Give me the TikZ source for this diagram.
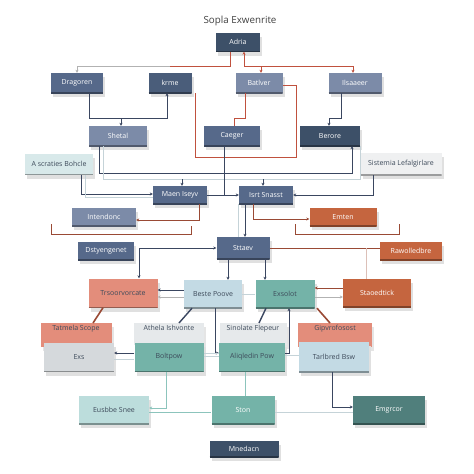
\documentclass[tikz,border=0pt]{standalone}
\usepackage{fontspec}
\setmainfont{Open Sans}
\usepackage{tikz}
\usetikzlibrary{arrows.meta}
\usetikzlibrary{shadows}

\definecolor{navy}{HTML}{3D5068}
\definecolor{slate}{HTML}{56698A}
\definecolor{slatedark}{HTML}{4A5D7A}
\definecolor{slatelight}{HTML}{7C8BA8}
\definecolor{orangebox}{HTML}{C5653F}
\definecolor{salmon}{HTML}{E38D7B}
\definecolor{tealbox}{HTML}{74B3A8}
\definecolor{tealdark}{HTML}{507F7C}
\definecolor{lightblue}{HTML}{C3DAE4}
\definecolor{lightteal}{HTML}{BCDDDC}
\definecolor{palegray}{HTML}{E6E9EB}
\definecolor{offwhite}{HTML}{EFF0F1}
\definecolor{midgray}{HTML}{D5D9DC}
\definecolor{paleteal}{HTML}{D8E9EA}
\definecolor{redline}{HTML}{C0513E}
\definecolor{brownline}{HTML}{9A4A35}
\definecolor{navyline}{HTML}{3A4660}
\definecolor{lightline}{HTML}{C5D3D8}
\definecolor{tealline}{HTML}{8CC4BC}
\definecolor{darktext}{HTML}{3D4A5A}

\begin{document}
\begin{tikzpicture}[x=1pt, y=-1pt,
    box/.style={rectangle, fill=#1, inner sep=0pt, text=white,
      font=\fontsize{7}{8}\selectfont,
      drop shadow={shadow xshift=2pt, shadow yshift=-4pt, fill=black!12, opacity=1},
      path picture={\draw[line width=1.6pt, #1!65!black]
        (path picture bounding box.south west) -- (path picture bounding box.south east);}},
    lbox/.style={box=#1, text=darktext},
    head/.style={rectangle, fill=#1, inner sep=0pt, text=darktext,
      font=\fontsize{7}{8}\selectfont,
      drop shadow={shadow xshift=2pt, shadow yshift=-4pt, fill=black!10, opacity=1}},
    navyln/.style={draw=navyline, line width=1pt},
    redln/.style={draw=redline, line width=1pt},
    brownln/.style={draw=brownline, line width=1pt},
    grayln/.style={draw=black!30, line width=1pt},
    lightln/.style={draw=lightline, line width=1pt},
    tealln/.style={draw=tealline, line width=1pt},
    tanln/.style={draw=brownline!35, line width=1pt},
    >={Stealth[length=3pt, width=3pt]}]

    \useasboundingbox[fill=white] (0,0) rectangle (474,474);

    \node[font=\fontsize{9.8}{11}\selectfont, text=black!75] (0) at (240,21) {Sopla Exwenrite};

    % top rows
    \node[box=navy, minimum width=44pt, minimum height=19pt] (1) at (238,42) {Adria};
    \node[box=slate, minimum width=52pt, minimum height=20pt] (2) at (77,83) {Dragoren};
    \node[box=slatedark, minimum width=43pt, minimum height=20pt] (3) at (170,83) {krme};
    \node[box=slatelight, minimum width=47pt, minimum height=20pt] (4) at (259,83) {Batlver};
    \node[box=slatelight, minimum width=53pt, minimum height=20pt] (5) at (355,83) {Ilsaaeer};
    \node[box=slatelight, minimum width=58pt, minimum height=20pt] (6) at (118,136) {Shetal};
    \node[box=slate, minimum width=56pt, minimum height=20pt] (7) at (232,136) {Caeger};
    \node[box=navy, minimum width=60pt, minimum height=20pt] (8) at (330,136) {Berore};
    \node[lbox=paleteal, minimum width=68pt, minimum height=21pt] (9) at (59,164) {A scraties Bohcle};
    \node[lbox=offwhite, minimum width=81pt, minimum height=22pt] (10) at (401,164) {Sistemia Lefalgirlare};
    \node[box=slate, minimum width=54pt, minimum height=18pt] (11) at (180,195) {Maen Iseyv};
    \node[box=slate, minimum width=54pt, minimum height=18pt] (12) at (266,195) {Isrt Snasst};
    \node[box=slatelight, minimum width=64pt, minimum height=18pt] (13) at (104,217) {Intendonc};
    \node[box=orangebox, minimum width=67pt, minimum height=18pt] (14) at (343,217) {Emten};
    \node[box=slate, minimum width=56pt, minimum height=18pt] (15) at (106,251) {Dstyengenet};
    \node[box=slate, minimum width=53pt, minimum height=22pt] (16) at (243,248) {Sttaev};
    \node[box=orangebox, minimum width=62pt, minimum height=18pt] (17) at (411,251) {Rawolledbre};

    % middle row
    \node[lbox=salmon, minimum width=69pt, minimum height=29pt] (18) at (123,293) {Trsoorvorcate};
    \node[lbox=lightblue, minimum width=58pt, minimum height=28pt] (19) at (213,294) {Beste Poove};
    \node[lbox=tealbox, minimum width=59pt, minimum height=28pt] (20) at (285,294) {Exsolot};
    \node[box=orangebox, minimum width=68pt, minimum height=28pt] (21) at (377,293) {Staoedtick};

    % cards
    \node[head=salmon, minimum width=71pt, minimum height=24pt, anchor=north, text depth=14pt] (22) at (76,323) {Tatmela Scope};
    \node[lbox=midgray, minimum width=70pt, minimum height=29pt] (23) at (79,357) {Exs};
    \node[head=palegray, minimum width=70pt, minimum height=22pt, anchor=north, text depth=12pt] (24) at (169,323) {Athela Ishvonte};
    \node[lbox=tealbox, minimum width=69pt, minimum height=29pt] (25) at (169,357) {Boltpow};
    \node[head=palegray, minimum width=67pt, minimum height=22pt, anchor=north, text depth=12pt] (26) at (253,323) {Sinolate Flepeur};
    \node[lbox=tealbox, minimum width=66pt, minimum height=29pt] (27) at (252,357) {Aliqledin Pow};
    \node[head=salmon, minimum width=74pt, minimum height=24pt, anchor=north, text depth=14pt] (28) at (335,323) {Gipvrofosost};
    \node[lbox=lightblue, minimum width=70pt, minimum height=30pt] (29) at (334,357) {Tarlbred Bsw};

    % bottom rows
    \node[lbox=lightteal, minimum width=70pt, minimum height=28pt] (30) at (114,410) {Eusbbe Snee};
    \node[box=tealbox, minimum width=63pt, minimum height=28pt] (31) at (243,410) {Ston};
    \node[box=tealdark, minimum width=72pt, minimum height=28pt] (32) at (389,410) {Emgrcor};
    \node[box=navy, minimum width=69pt, minimum height=16pt] (33) at (244,449) {Mnedacn};

    \coordinate (a1) at (170,66);
    \coordinate (a2) at (244,66);
    \coordinate (b1) at (121,118);
    \coordinate (c1) at (234,118);
    \coordinate (d1) at (329,118);
    \coordinate (e1) at (352,173);
    \coordinate (e2) at (360,179);

    \draw[redln] ([xshift=-8pt]1.south) |- (a1);
    \draw[grayln,->] (a1) -| (2.north);
    \draw[redln,->] (a2) -- ([xshift=6pt]1.south);
    \draw[redln,->] (a2) -| ([xshift=2pt]4.north);
    \draw[redln,->] (a2) -| ([xshift=-2pt]5.north);

    \draw[navyln] ([xshift=12pt]2.south) |- (b1);
    \draw[navyln,->] (b1) -| ([xshift=-3pt]3.south);
    \draw[navyln,->] (b1) -- ([xshift=3pt]6.north);
    \draw[redln] ([xshift=4pt]3.south east) |- (296,157) |- ([yshift=-2pt]4.east);
    \draw[redln] ([xshift=-14pt]4.south) |- (c1) -- (c1 |- 7.north);
    \draw[navyln,->] ([xshift=-14pt]5.south) |- (d1) -- (d1 |- 8.north);

    \draw[navyln,->] ([xshift=-19pt]6.south) |- (e1) -- ([xshift=22pt]8.south);
    \draw[lightln] ([xshift=-15pt]6.south) |- (e2) -- ([xshift=30pt]8.south);
    \draw[navyln,->] ([xshift=2pt]11.north |- e2) -- ([xshift=2pt]11.north);
    \draw[navyln,->] ([xshift=-3pt]12.north |- e2) -- ([xshift=-3pt]12.north);
    \draw[navyln,->] ([xshift=22pt]9.south) |- ([yshift=1pt]11.west);
    \draw[lightln] ([xshift=26pt]9.south) |- ([yshift=-2pt]11.west);
    \draw[navyln,->] (11.east) -- (12.west);
    \draw[navyln] ([xshift=-8pt]7.south) -- ([xshift=-8pt]7.south |- 12.west);
    \draw[navyln,->] ([xshift=-28pt]10.south) |- (12.east);

    \draw[brownln,->] ([xshift=19pt]11.south) |- ([yshift=-3pt]13.east);
    \draw[brownln] (51,224) -- (51,234) -- (191,234) -- (191,226);
    \draw[navyln,->] ([xshift=-21pt]12.south) -- ([xshift=2pt]16.north);
    \draw[lightln] ([xshift=-28pt]12.south) -- (238,237);
    \draw[brownln,->] ([xshift=-13pt]12.south) |- ([yshift=-2pt]14.west);
    \draw[brownln] (295,224) -- (295,234) -- (399,234) -- (399,224);

    \draw[navyln,<->] ([xshift=16pt]18.north) |- (16.west);
    \draw[navyln,->] ([xshift=-15pt]16.south) -- ([xshift=-15pt]16.south |- 19.north);
    \draw[navyln,->] ([xshift=22pt]16.south) -- ([xshift=22pt]16.south |- 20.north);
    \draw[brownln] (16.east) -- (16.east -| 17.west);
    \draw[tanln] ([xshift=-11pt]21.north |- 16.east) -- ([xshift=-11pt]21.north);

    \draw[navyln,->] ([yshift=4pt]19.west) -- ([yshift=4pt]19.west -| 18.east);
    \draw[grayln,->] ([yshift=-3pt]19.west) -- ([yshift=-3pt]19.west -| 18.east);
    \draw[lightln] (19.east) -- (20.west);
    \draw[brownln,->] ([yshift=5pt]21.west) -- ([yshift=5pt]21.west -| 20.east);
    \draw[grayln,->] ([yshift=-3pt]20.east) -- ([yshift=-3pt]20.east -| 21.west);

    \draw[brownln, line width=1.6pt] ([xshift=-20pt]18.south) -- ([xshift=17pt]22.north);
    \draw[navyln, line width=1.4pt] ([xshift=-21pt]19.south) -- ([xshift=10pt]24.north);
    \draw[navyln, line width=1.4pt] ([xshift=-19pt]20.south) -- ([xshift=6pt]26.north);
    \draw[brownln, line width=1.6pt] ([xshift=32pt]20.south) -- ([xshift=-5pt]28.north);
    \draw[navyln,->] ([xshift=2pt]19.south) |- ([yshift=4pt]27.west);
    \draw[navyln,->] ([yshift=4pt]27.east) -| ([xshift=4pt]20.south);

    \draw[navyln,->] ([yshift=4pt]25.west) -- ([yshift=4pt]25.west -| 23.east);
    \draw[lightln] ([yshift=-2pt]25.west) -- ([yshift=-2pt]25.west -| 23.east);
    \draw[lightln] ([yshift=4pt]25.east) -- ([yshift=4pt]25.east -| 27.west);
    \draw[lightln] ([yshift=1pt]25.east) -- ([yshift=1pt]25.east -| 27.west);
    \draw[lightln] ([yshift=2pt]27.east) -- ([yshift=2pt]27.east -| 29.west);

    \draw[tealln,->] ([xshift=-3pt]25.south) |- ([yshift=2pt]30.east);
    \draw[tealln] ([yshift=-2pt]30.east) -- ([yshift=-2pt]30.east -| 31.west);
    \draw[tealln] ([xshift=-7pt]27.south) -- ([xshift=2pt]31.north);
    \draw[lightln] ([yshift=-2pt]31.east) -- ([yshift=-2pt]31.east -| 32.west);
    \draw[navyln,->] ([xshift=-2pt]29.south) |- ([yshift=3pt]32.west);
\end{tikzpicture}
\end{document}
